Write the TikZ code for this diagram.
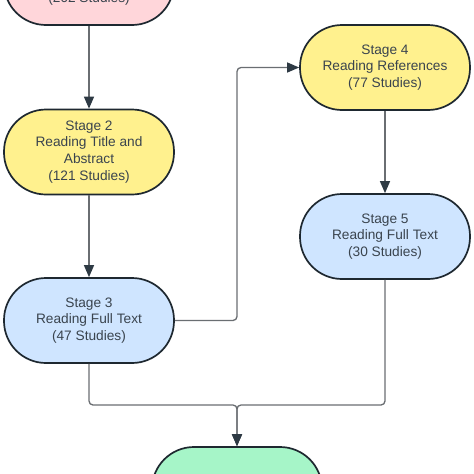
\documentclass[tikz,border=0pt]{standalone}
\usepackage{fontspec}
\setmainfont{Liberation Sans}
\usetikzlibrary{arrows.meta}
\definecolor{pinkf}{HTML}{FFD6DA}
\definecolor{yellowf}{HTML}{FFF18E}
\definecolor{bluef}{HTML}{CFE5FF}
\definecolor{greenf}{HTML}{A6F5C8}
\definecolor{bordercol}{HTML}{1E2830}
\definecolor{textcol}{HTML}{3A444E}
\definecolor{linecol}{HTML}{6A6E72}
\definecolor{arrowcol}{HTML}{2E3A44}
\begin{document}
\begin{tikzpicture}[x=1pt,y=-1pt,
  stadium/.style={draw=bordercol, line width=1.7pt, rounded corners=42pt,
    minimum width=170pt, minimum height=85pt, inner sep=0pt, align=center,
    text=textcol, font=\fontsize{13.7}{16.8}\selectfont},
  conn/.style={draw=linecol, line width=1.3pt, rounded corners=4pt,
    -{Triangle[length=12pt,width=10pt,color=arrowcol]}}]
\useasboundingbox (0,0) rectangle (474,474);
\clip (0,0) rectangle (474,474);
\fill[white] (0,0) rectangle (474,474);
\node[stadium, fill=pinkf] (s1) at (89,-17.5) {\strut\\\strut\\\strut(262 Studies)};
\node[stadium, fill=yellowf] (s2) at (89,152) {Stage 2\\Reading Title and\\Abstract\\(121 Studies)};
\node[stadium, fill=bluef] (s3) at (89,320.5) {Stage 3\\Reading Full Text\\(47 Studies)};
\node[stadium, fill=yellowf] (s4) at (385,67.5) {Stage 4\\Reading References\\(77 Studies)};
\node[stadium, fill=bluef] (s5) at (385,236.5) {Stage 5\\Reading Full Text\\(30 Studies)};
\node[stadium, fill=greenf] (s6) at (237,489.5) {};
\coordinate (j) at (237,405);
\coordinate (k) at (237,320.5);
\draw[conn] (s1.south) -- (s2.north);
\draw[conn] (s2.south) -- (s3.north);
\draw[conn] (s3.east) -- (k) |- (s4.west);
\draw[conn] (s4.south) -- (s5.north);
\draw[conn] (s3.south) |- (j) -- (s6.north);
\draw[conn] (s5.south) |- (j) -- (s6.north);
\end{tikzpicture}
\end{document}
